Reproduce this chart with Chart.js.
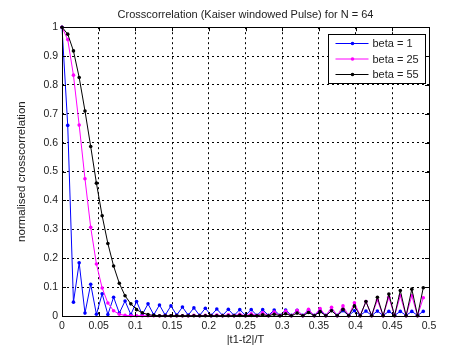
<!DOCTYPE html>
<html>
<head>
<meta charset="utf-8">
<script src="https://cdn.jsdelivr.net/npm/chart.js@4.4.1/dist/chart.umd.min.js"></script>
<style>
  html, body { margin: 0; padding: 0; background: #fff; }
  canvas { display: block; }
</style>
</head>
<body>
<canvas id="chart" width="474" height="355"></canvas>
<script>
// lag |t1-t2|/T, one sample per 1/128
const lags = [
  0, 0.0078, 0.0156, 0.0234, 0.0313, 0.0391, 0.0469, 0.0547,
  0.0625, 0.0703, 0.0781, 0.0859, 0.0938, 0.1016, 0.1094, 0.1172,
  0.125, 0.1328, 0.1406, 0.1484, 0.1563, 0.1641, 0.1719, 0.1797,
  0.1875, 0.1953, 0.2031, 0.2109, 0.2188, 0.2266, 0.2344, 0.2422,
  0.25, 0.2578, 0.2656, 0.2734, 0.2813, 0.2891, 0.2969, 0.3047,
  0.3125, 0.3203, 0.3281, 0.3359, 0.3438, 0.3516, 0.3594, 0.3672,
  0.375, 0.3828, 0.3906, 0.3984, 0.4063, 0.4141, 0.4219, 0.4297,
  0.4375, 0.4453, 0.4531, 0.4609, 0.4688, 0.4766, 0.4844, 0.4922
];

const beta1 = [
  1.0, 0.66, 0.048, 0.184, 0.01, 0.11, 0.006, 0.077,
  0.005, 0.065, 0.01, 0.052, 0.005, 0.05, 0.005, 0.042,
  0.004, 0.038, 0.003, 0.035, 0.003, 0.031, 0.003, 0.028,
  0.002, 0.027, 0.002, 0.024, 0.002, 0.023, 0.002, 0.022,
  0.002, 0.022, 0.002, 0.022, 0.002, 0.021, 0.002, 0.021,
  0.002, 0.02, 0.002, 0.02, 0.002, 0.019, 0.002, 0.019,
  0.002, 0.018, 0.002, 0.018, 0.002, 0.017, 0.002, 0.017,
  0.002, 0.016, 0.002, 0.016, 0.002, 0.016, 0.002, 0.016
];

const beta25 = [
  1.0, 0.957, 0.834, 0.661, 0.475, 0.307, 0.18, 0.097,
  0.045, 0.018, 0.006, 0.002, 0.001, 0.001, 0.001, 0.001,
  0.001, 0.001, 0.001, 0.001, 0.001, 0.001, 0.001, 0.002,
  0.001, 0.002, 0.001, 0.003, 0.001, 0.004, 0.001, 0.006,
  0.001, 0.008, 0.001, 0.011, 0.001, 0.014, 0.001, 0.017,
  0.001, 0.02, 0.001, 0.023, 0.001, 0.026, 0.001, 0.03,
  0.001, 0.035, 0.001, 0.046, 0.001, 0.05, 0.001, 0.055,
  0.001, 0.065, 0.001, 0.07, 0.001, 0.07, 0.001, 0.063
];

const beta55 = [
  1.0, 0.976, 0.918, 0.826, 0.71, 0.587, 0.46, 0.347,
  0.251, 0.173, 0.113, 0.07, 0.042, 0.022, 0.011, 0.005,
  0.002, 0.001, 0.001, 0.001, 0.001, 0.001, 0.001, 0.001,
  0.001, 0.001, 0.001, 0.001, 0.001, 0.001, 0.001, 0.002,
  0.001, 0.002, 0.001, 0.004, 0.001, 0.006, 0.001, 0.008,
  0.001, 0.01, 0.001, 0.012, 0.001, 0.015, 0.001, 0.018,
  0.001, 0.023, 0.001, 0.035, 0.001, 0.05, 0.001, 0.065,
  0.001, 0.076, 0.001, 0.088, 0.001, 0.093, 0.001, 0.098
];

const seriesNames = ["beta = 1", "beta = 25", "beta = 55"];
const seriesColors = ["#0000ff", "#ff00ff", "#000000"];
const xTicks = [0, 0.05, 0.1, 0.15, 0.2, 0.25, 0.3, 0.35, 0.4, 0.45, 0.5];
const xTickLabels = ["0", "0.05", "0.1", "0.15", "0.2", "0.25", "0.3", "0.35", "0.4", "0.45", "0.5"];
const yTicks = [0, 0.1, 0.2, 0.3, 0.4, 0.5, 0.6, 0.7, 0.8, 0.9, 1];
const yTickLabels = ["0", "0.1", "0.2", "0.3", "0.4", "0.5", "0.6", "0.7", "0.8", "0.9", "1"];

const FONT = "'Liberation Sans', Arial, sans-serif";
const toPoints = (ys) => ys.map((y, i) => ({ x: lags[i], y }));

// black frame + inward tick marks, matlab style
const framePlugin = {
  id: "frame",
  afterDatasetsDraw(chart) {
    const { ctx, chartArea: a, scales } = chart;
    ctx.save();
    ctx.strokeStyle = "#000";
    ctx.lineWidth = 1;
    ctx.setLineDash([]);
    ctx.beginPath();
    xTicks.forEach((v) => {
      const px = Math.round(scales.x.getPixelForValue(v)) + 0.5;
      ctx.moveTo(px, a.bottom); ctx.lineTo(px, a.bottom - 4);
      ctx.moveTo(px, a.top); ctx.lineTo(px, a.top + 4);
    });
    yTicks.forEach((v) => {
      const py = Math.round(scales.y.getPixelForValue(v)) + 0.5;
      ctx.moveTo(a.left, py); ctx.lineTo(a.left + 4, py);
      ctx.moveTo(a.right, py); ctx.lineTo(a.right - 4, py);
    });
    ctx.stroke();
    ctx.strokeRect(Math.round(a.left) + 0.5, Math.round(a.top) + 0.5,
      Math.round(a.right - a.left), Math.round(a.bottom - a.top));
    ctx.restore();
  },
};

// legend box inside the top right corner
const legendPlugin = {
  id: "boxLegend",
  afterDraw(chart) {
    const { ctx, chartArea: a } = chart;
    const w = 97, h = 49, rowH = 15.5;
    const x0 = Math.round(a.right - 4 - w) + 0.5;
    const y0 = Math.round(a.top + 7) + 0.5;
    ctx.save();
    ctx.fillStyle = "#fff";
    ctx.fillRect(x0, y0, w, h);
    ctx.strokeStyle = "#000";
    ctx.lineWidth = 1;
    ctx.strokeRect(x0, y0, w, h);
    ctx.font = "11px " + FONT;
    ctx.textBaseline = "middle";
    chart.data.datasets.forEach((ds, i) => {
      const y = y0 + 9 + i * rowH;
      ctx.strokeStyle = ds.borderColor;
      ctx.beginPath();
      ctx.moveTo(x0 + 7, y);
      ctx.lineTo(x0 + 40, y);
      ctx.stroke();
      ctx.fillStyle = ds.borderColor;
      ctx.beginPath();
      ctx.arc(x0 + 24, y, 1.8, 0, Math.PI * 2);
      ctx.fill();
      ctx.fillStyle = "#222";
      ctx.fillText(ds.label, x0 + 44, y + 0.5);
    });
    ctx.restore();
  },
};

new Chart(document.getElementById("chart"), {
  type: "line",
  data: {
    datasets: [beta1, beta25, beta55].map((ys, i) => ({
      label: seriesNames[i],
      data: toPoints(ys),
      borderColor: seriesColors[i],
      backgroundColor: seriesColors[i],
      borderWidth: 1,
      pointRadius: 1.8,
      pointBorderWidth: 0,
      pointStyle: "circle",
      tension: 0,
      clip: 6,
      order: 2 - i,
    })),
  },
  options: {
    responsive: false,
    animation: false,
    devicePixelRatio: 1,
    layout: { padding: { top: 0, right: 45, bottom: 0, left: 0 } },
    plugins: {
      legend: { display: false },
      tooltip: { enabled: false },
      title: {
        display: true,
        fullSize: false,
        text: "Crosscorrelation (Kaiser windowed Pulse) for N = 64",
        color: "#222",
        font: { family: FONT, size: 11, weight: "normal" },
        padding: { top: 8, bottom: 6 },
      },
    },
    scales: {
      x: {
        type: "linear",
        min: 0,
        max: 0.5,
        afterBuildTicks: (s) => { s.ticks = xTicks.map((v) => ({ value: v })); },
        afterFit: (s) => { s.height = 39; },
        ticks: {
          color: "#222",
          font: { family: FONT, size: 10.5 },
          padding: 4,
          maxRotation: 0,
          autoSkip: false,
          callback: (v) => xTickLabels[xTicks.indexOf(v)] ?? "",
        },
        grid: { color: "#000", lineWidth: 1, drawTicks: false },
        border: { display: false, dash: [2, 3] },
        title: {
          display: true,
          text: "|t1-t2|/T",
          color: "#222",
          font: { family: FONT, size: 11 },
          padding: { top: 0, bottom: 8 },
        },
      },
      y: {
        type: "linear",
        min: 0,
        max: 1,
        afterBuildTicks: (s) => { s.ticks = yTicks.map((v) => ({ value: v })); },
        afterFit: (s) => { s.width = 62; },
        ticks: {
          color: "#222",
          font: { family: FONT, size: 10.5 },
          padding: 4,
          autoSkip: false,
          callback: (v) => yTickLabels[yTicks.indexOf(v)] ?? "",
        },
        grid: { color: "#000", lineWidth: 1, drawTicks: false },
        border: { display: false, dash: [2, 3] },
        title: {
          display: true,
          text: "normalised crosscorrelation",
          color: "#222",
          font: { family: FONT, size: 11.5 },
          padding: { top: 15, bottom: 0 },
        },
      },
    },
  },
  plugins: [framePlugin, legendPlugin],
});
</script>
</body>
</html>
